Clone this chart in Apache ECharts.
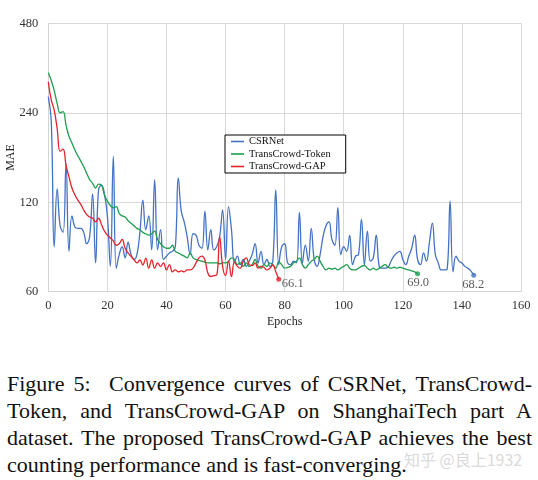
<!DOCTYPE html>
<html>
<head>
<meta charset="utf-8">
<script src="https://cdn.jsdelivr.net/npm/echarts@6/dist/echarts.min.js"></script>
<style>
html,body{margin:0;padding:0;background:#fff;}
#wrap{position:relative;width:538px;height:480px;overflow:hidden;background:#fff;}
#chart{position:absolute;left:0;top:0;width:538px;height:340px;}
#caption{position:absolute;left:7px;top:370px;width:525px;font-family:"Liberation Serif","Times New Roman",serif;font-size:22px;line-height:27px;color:#111;}
#caption .j{text-align:justify;text-align-last:justify;}
#caption .l{text-align:left;}
#wm{position:absolute;left:404px;top:447px;font-family:"Noto Sans CJK SC","Noto Sans",sans-serif;font-size:16px;color:#dadada;white-space:nowrap;}
</style>
</head>
<body>
<div id="wrap">
  <div id="chart"></div>
  <div id="caption">
    <div class="j">Figure 5:&nbsp; Convergence curves of CSRNet, TransCrowd-</div>
    <div class="j">Token, and TransCrowd-GAP on ShanghaiTech part A</div>
    <div class="j">dataset. The proposed TransCrowd-GAP achieves the best</div>
    <div class="l">counting performance and is fast-converging.</div>
  </div>
  <div id="wm">知乎 @良上1932</div>
</div>
<script>
// Tick labels
var xTicks = [0, 20, 40, 60, 80, 100, 120, 140, 160];
var yTicks = [60, 120, 240, 480];
var seriesNames = ['CSRNet', 'TransCrowd-Token', 'TransCrowd-GAP'];

// MAE per epoch (index = epoch)
var csrnet = [272,225,85,133,100,95,162,82,108,99,
  98,98,95,87,92,128,75,132,137,128,
  108,73,171,72,80,85,78,88,80,77,
  80,95,122,97,108,83,143,83,97,77,
  79,81,82,85,145,112,103,92,80,94,
  93,86,84,112,83,97,83,85,92,113,
  77,116,97,75,79,74,77,73,76,80,
  87,75,82,74,77,73,76,132,74,85,
  87,75,74,76,75,111,75,86,76,98,
  77,73,80,92,100,103,90,86,115,80,
  85,82,93,74,79,80,105,74,96,76,
  78,93,73,72,72,72.5,76,79,81,82,
  77,74,79,84,93,77,74,81,76,88,
  102,80,75,71,71,71.5,121,70,79,76,
  75,73,72,70.5,68.2];

var token = [327,308,285,258,240,242,218,200,190,180,
  172,165,158,150,143,139,134,138,137,127,
  121,117,115,116,110,108,107,104,102,100,
  98,97,95,94,93,94,96,90,87,85,
  84,84,86,82,81,80,79,78,81,78,
  77,76.5,76,75.5,75,75,75,75,74.5,75,
  75,76,78,77,74,75,73,75,73,74,
  77,73,72,74,73,75,74,72,75.6,74,
  72,72.5,73,75,76,78,74,72,74,76,
  77,79,76,73,71,72,71.5,72,71,72,
  73,74,72,71,71,72,73,73.5,72,71,
  72,71,72,73,74,72.5,72,72.5,72,72.5,
  72,71.5,71,70.5,70,69.0];

var gap = [305,265,245,212,178,181,160,146,134,127,
  122,118,113,109,107,106,103,106,101,96,
  93,91,89,86,87,90,84,81,79,77,
  75,76.7,73.8,77.8,72,76.7,72,75,73,75,
  71,74,70,71,70,70.5,70,71,71,72,
  75,78,79,76.7,69.4,67.5,68,68.3,92,73,
  68,76,67.5,75.5,73,72,76,78,74,73.5,
  75,72,73,72.5,71,72,73.8,70,66.1];

var colors = ['#4472C4', '#1E9E4F', '#E5232B'];
var FONT = 'Liberation Serif';

function toLog(v) { return Math.log2(v / yTicks[0]); }
function pts(arr) { return arr.map(function (v, i) { return [i, toLog(v)]; }); }
function lastPt(arr) { return [[arr.length - 1, toLog(arr[arr.length - 1]), arr[arr.length - 1]]]; }

var allData = [csrnet, token, gap];
var labelOffsets = [[-0.5, 9.5], [0.5, 9.5], [14, 4.5]];

var series = [];
allData.forEach(function (arr, k) {
  series.push({
    name: seriesNames[k],
    type: 'line',
    data: pts(arr),
    smooth: 0.45,
    symbol: 'none',
    showSymbol: false,
    lineStyle: { color: colors[k], width: 1.3 },
    itemStyle: { color: colors[k] },
    z: 2 + k
  });
});
allData.forEach(function (arr, k) {
  series.push({
    name: seriesNames[k] + ' end',
    type: 'scatter',
    data: lastPt(arr),
    symbol: 'circle',
    symbolSize: 5,
    itemStyle: { color: colors[k] },
    z: 10,
    label: {
      show: true,
      position: 'inside',
      offset: labelOffsets[k],
      formatter: function (p) { return p.value[2].toFixed(1); },
      fontFamily: FONT,
      fontSize: 12.5,
      color: '#333'
    }
  });
});

var chart = echarts.init(document.getElementById('chart'));
chart.setOption({
  animation: false,
  backgroundColor: '#fff',
  grid: { left: 48.3, right: 17, top: 23.3, height: 268.4, containLabel: false, outerBoundsMode: 'none' },
  legend: {
    data: seriesNames.map(function (n) { return { name: n, icon: 'rect' }; }),
    orient: 'vertical',
    left: 225,
    top: 135,
    padding: [1, 15, 1, 6],
    itemGap: 1.5,
    itemWidth: 13,
    itemHeight: 1.6,
    itemTextGap: 3,
    backgroundColor: '#fff',
    borderColor: '#000',
    borderWidth: 1,
    textStyle: { fontFamily: FONT, fontSize: 10.5, color: '#111', lineHeight: 11 }
  },
  xAxis: {
    type: 'value',
    min: xTicks[0],
    max: xTicks[xTicks.length - 1],
    interval: xTicks[1] - xTicks[0],
    name: 'Epochs',
    nameLocation: 'middle',
    nameGap: 24,
    nameMoveOverlap: false,
    nameTextStyle: { fontFamily: FONT, fontSize: 12, color: '#222' },
    axisLine: { show: true, lineStyle: { color: '#d4d4d4', width: 1 } },
    axisTick: { show: false },
    splitLine: { show: true, lineStyle: { color: '#d9d9d9', width: 1 } },
    axisLabel: { fontFamily: FONT, fontSize: 12.5, color: '#333', margin: 8 }
  },
  yAxis: {
    type: 'value',
    min: 0,
    max: yTicks.length - 1,
    interval: 1,
    name: 'MAE',
    nameLocation: 'middle',
    nameGap: 31,
    nameRotate: 90,
    nameMoveOverlap: false,
    nameTextStyle: { fontFamily: FONT, fontSize: 12, color: '#222' },
    axisLine: { show: true, lineStyle: { color: '#d4d4d4', width: 1 } },
    axisTick: { show: false },
    splitLine: { show: true, lineStyle: { color: '#d9d9d9', width: 1 } },
    axisLabel: {
      fontFamily: FONT, fontSize: 12.5, color: '#333', margin: 10,
      formatter: function (v) { return String(yTicks[Math.round(v)]); }
    }
  },
  series: series
});
</script>
</body>
</html>
